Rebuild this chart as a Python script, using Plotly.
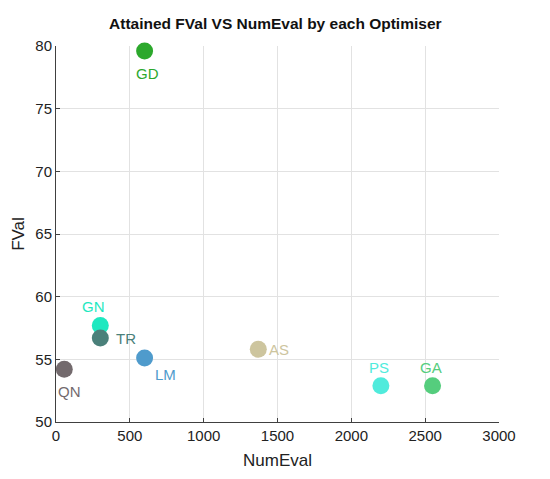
import plotly.graph_objects as go

optimisers = ["GD", "GN", "TR", "LM", "QN", "AS", "PS", "GA"]
num_eval = [600, 300, 300, 600, 56, 1370, 2200, 2550]
fval = [79.6, 57.7, 56.7, 55.1, 54.2, 55.8, 52.9, 52.9]
colours = ["#2ca82c", "#1ee8c0", "#4a807a", "#4f9bcc", "#736a6d", "#cdc59e", "#50ebdc", "#55cd7d"]

# label offsets in px (dx, dy, anchor)
label_pos = {
    "GD": (3, -22, "center"),
    "GN": (-7, 19, "center"),
    "TR": (14, 0, "left"),
    "LM": (8, -16, "left"),
    "QN": (-8, -22, "left"),
    "AS": (9, 0, "left"),
    "PS": (-2, 18, "center"),
    "GA": (-2, 18, "center"),
}

fig = go.Figure()
fig.add_trace(go.Scatter(
    x=num_eval, y=fval, mode="markers",
    marker=dict(size=17, color=colours, line=dict(width=0)),
    showlegend=False, hoverinfo="x+y", cliponaxis=False,
))

for name, xv, yv, c in zip(optimisers, num_eval, fval, colours):
    dx, dy, anchor = label_pos[name]
    fig.add_annotation(
        x=xv, y=yv, text=name, showarrow=False,
        xanchor=anchor, yanchor="middle", xshift=dx, yshift=dy,
        font=dict(size=15, color=c, family="Liberation Sans, Arial"),
    )

axis_style = dict(
    showgrid=True, gridcolor="#e2e2e2", gridwidth=1,
    showline=True, linecolor="#404040", linewidth=1,
    ticks="inside", ticklen=4, tickcolor="#404040",
    tickfont=dict(size=15, color="#222"),
    zeroline=False, automargin=False,
)

# the page adds an 8px body margin, so margins are shifted to compensate
fig.update_layout(
    width=550, height=479,
    margin=dict(l=48, r=59, t=38, b=65),
    paper_bgcolor="white", plot_bgcolor="white",
    font=dict(family="Liberation Sans, Arial", color="#222"),
    title=dict(text="<b>Attained FVal VS NumEval by each Optimiser</b>",
               x=0.486, xanchor="center", y=0.968, yanchor="middle",
               font=dict(size=15.5, color="#111")),
    xaxis=dict(range=[0, 3000], dtick=500,
               title=dict(text="NumEval", font=dict(size=17), standoff=11), **axis_style),
    yaxis=dict(range=[50, 80], dtick=5,
               title=dict(text="FVal", font=dict(size=17), standoff=6), **axis_style),
)

fig.write_html("out.html")
